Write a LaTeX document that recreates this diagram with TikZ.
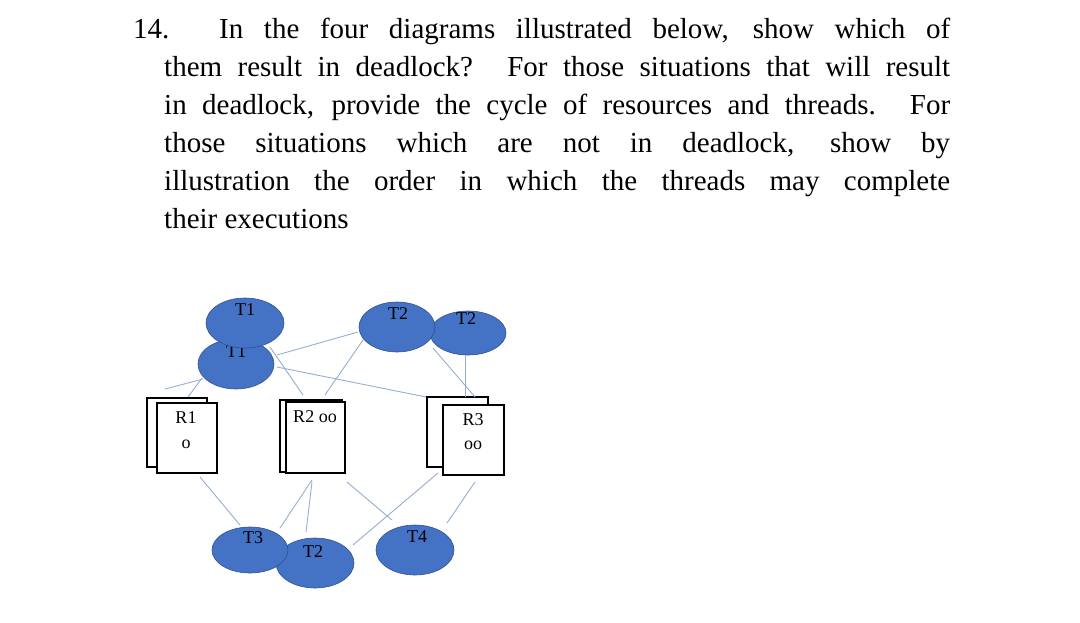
\documentclass[tikz,border=0pt]{standalone}
\usepackage{fontspec}
\setmainfont{Liberation Serif}
\usetikzlibrary{shapes.geometric}
\definecolor{tfill}{HTML}{4472C4}
\definecolor{tedge}{HTML}{2F528F}
\definecolor{lnk}{HTML}{94AED0}
\begin{document}
\begin{tikzpicture}[x=1pt,y=-1pt,
  th/.style={ellipse,fill=tfill,draw=tedge,line width=0.6pt,inner sep=0pt},
  tl/.style={font=\fontsize{18}{20}\selectfont,inner sep=0pt},
  rbox/.style={draw=black,line width=1.3pt,fill=white},
  rl/.style={font=\fontsize{18}{20}\selectfont,inner sep=0pt},
  ln/.style={draw=lnk,line width=0.9pt},
  qt/.style={anchor=base west,inner sep=0pt,font=\fontsize{29}{38}\selectfont}]
\useasboundingbox (0,0) rectangle (1080,622);
% question text
\node[qt] (q1) at (133,38) {\makebox[817pt][s]{14. In the four diagrams illustrated below, show which of}};
\node[qt] (q2) at (164,76) {\makebox[786pt][s]{them result in deadlock? For those situations that will result}};
\node[qt] (q3) at (164,114) {\makebox[786pt][s]{in deadlock, provide the cycle of resources and threads. For}};
\node[qt] (q4) at (164,152) {\makebox[786pt][s]{those situations which are not in deadlock, show by}};
\node[qt] (q5) at (164,190) {\makebox[786pt][s]{illustration the order in which the threads may complete}};
\node[qt] (q6) at (164,228) {their executions};
% links
\coordinate (a1) at (165,389); \coordinate (a2) at (203,379);
\coordinate (b1) at (188,397); \coordinate (b2) at (202,378);
\coordinate (c1) at (270,347); \coordinate (c2) at (303,395);
\coordinate (d1) at (277,355); \coordinate (d2) at (358,332);
\coordinate (e1) at (277,367); \coordinate (e2) at (426,397);
\coordinate (f1) at (363,340); \coordinate (f2) at (325,395);
\coordinate (g1) at (433,348); \coordinate (g2) at (475,397);
\coordinate (h1) at (465,355); \coordinate (h2) at (465,397);
\coordinate (i1) at (200,477); \coordinate (i2) at (240,525);
\coordinate (j1) at (312,480); \coordinate (j2) at (280,528);
\coordinate (k1) at (312,482); \coordinate (k2) at (306,532);
\coordinate (l1) at (347,482); \coordinate (l2) at (392,520);
\coordinate (m1) at (438,473); \coordinate (m2) at (353,545);
\coordinate (n1) at (475,482); \coordinate (n2) at (447,523);
% threads top
\node[th,minimum width=76pt,minimum height=50pt] (t1b) at (236,364) {};
\node[tl] (t1bl) at (236,352) {T1};
\node[th,minimum width=78pt,minimum height=50pt] (t1a) at (245,323) {};
\node[tl] (t1al) at (245,310) {T1};
\node[th,minimum width=76pt,minimum height=44pt] (t2r) at (468,333) {};
\node[tl] (t2rl) at (466,319) {T2};
\node[th,minimum width=76pt,minimum height=50pt] (t2l) at (397,327) {};
\node[tl] (t2ll) at (398,314) {T2};
% resources
\draw[rbox] (147,398) rectangle (207,467);
\draw[rbox] (157,403) rectangle (217,473);
\node[rl] (r1) at (186,418) {R1};
\node[rl] (r1o) at (186,444) {o};
\draw[rbox] (280,400) rectangle (342,472);
\draw[rbox] (286,402) rectangle (345,473);
\node[rl] (r2) at (315,417) {R2 oo};
\draw[rbox] (427,397) rectangle (488,467);
\draw[rbox] (443,405) rectangle (504,475);
\node[rl] (r3) at (473,420) {R3};
\node[rl] (r3o) at (473,445) {oo};
% threads bottom
\node[th,minimum width=78pt,minimum height=50pt] (t2b) at (315,563) {};
\node[tl] (t2bl) at (313,552) {T2};
\node[th,minimum width=76pt,minimum height=46pt] (t3) at (250,550) {};
\node[tl] (t3l) at (253,538) {T3};
\node[th,minimum width=78pt,minimum height=50pt] (t4) at (415,550) {};
\node[tl] (t4l) at (417,537) {T4};
% links drawn
\foreach \p in {a,b,c,d,e,f,g,h,i,j,k,l,m,n} \draw[ln] (\p1) -- (\p2);
\end{tikzpicture}
\end{document}
